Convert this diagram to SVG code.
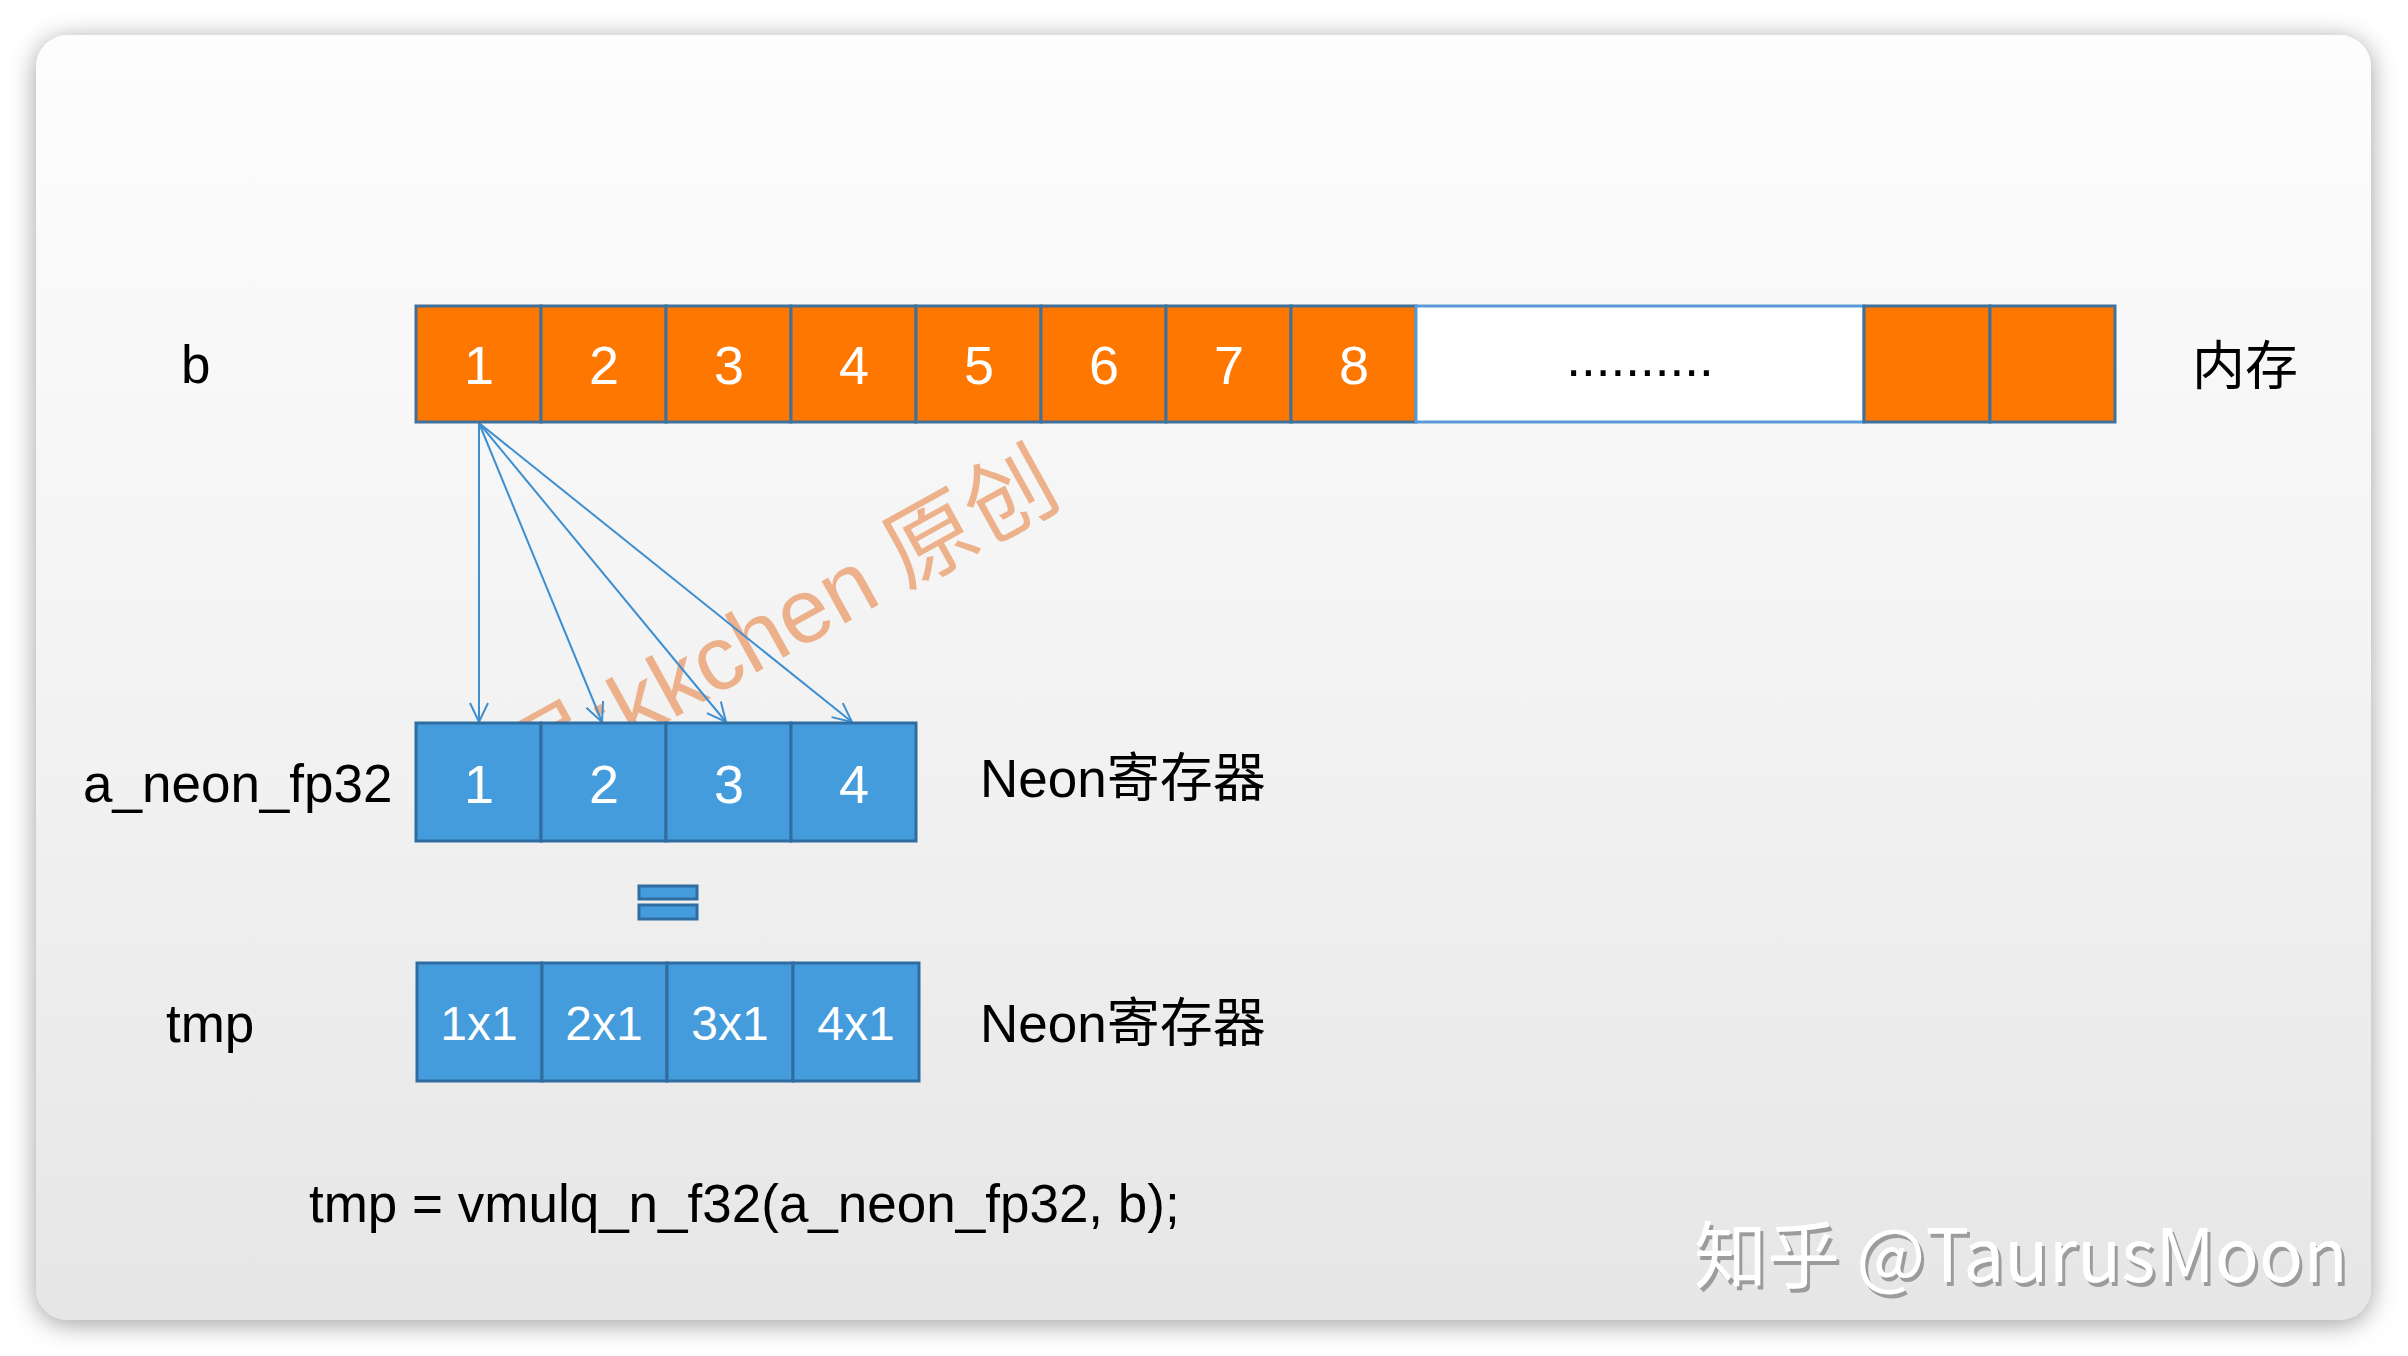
<svg xmlns="http://www.w3.org/2000/svg" width="2408" height="1356" viewBox="0 0 2408 1356">
  <defs>
    <linearGradient id="cardGrad" x1="0" y1="0" x2="0" y2="1">
      <stop offset="0" stop-color="#fdfdfd"/>
      <stop offset="0.5" stop-color="#f3f3f3"/>
      <stop offset="1" stop-color="#e6e6e6"/>
    </linearGradient>
    <filter id="cardShadow" x="-5%" y="-8%" width="110%" height="116%">
      <feDropShadow dx="0" dy="4" stdDeviation="13" flood-color="#000" flood-opacity="0.38"/>
    </filter>
    <marker id="vhead" viewBox="0 0 22 22" refX="20" refY="11" markerWidth="22" markerHeight="22" markerUnits="userSpaceOnUse" orient="auto">
      <path d="M1,2 L20,11 L1,20" fill="none" stroke="#3d8fd1" stroke-width="2"/>
    </marker>
    <style>
      .lbl { font-family: "Liberation Sans", Arial, sans-serif; font-size: 53px; fill: #000; }
      .cjk { font-family: "Liberation Sans", "Noto Sans CJK SC", sans-serif; font-size: 53px; fill: #000; }
      .num { font-family: "Liberation Sans", Arial, sans-serif; font-size: 54px; fill: #fff; text-anchor: middle; }
      .small { font-size: 48px; }
      .mem { fill: #fe7700; stroke: #41709a; stroke-width: 3; }
      .blank { fill: #fefefe; stroke: #5b9bd5; stroke-width: 3; }
      .reg { fill: #449cdc; stroke: #2f6c9f; stroke-width: 3; }
      .conn { fill: none; stroke: #3d8fd1; stroke-width: 2; marker-end: url(#vhead); }
      .wm { font-family: "Liberation Sans", "Noto Sans CJK SC", sans-serif; font-size: 91px; fill: #ea965f; opacity: 0.7; }
      .zh { font-family: "Noto Sans CJK SC", "Liberation Sans", sans-serif; font-size: 73px; }
    </style>
  </defs>

  <rect x="0" y="0" width="2408" height="1356" fill="#ffffff"/>
  <rect id="card" x="36" y="35" width="2335" height="1285" rx="32" ry="32" fill="url(#cardGrad)" filter="url(#cardShadow)"/>

  <!-- faint watermark behind diagram -->
  <text class="wm" x="530" y="798" transform="rotate(-29 530 798)">号:kkchen 原创</text>

  <g id="connectors">
    <line class="conn" x1="479" y1="423" x2="479" y2="722"/>
    <line class="conn" x1="479" y1="423" x2="602" y2="722"/>
    <line class="conn" x1="479" y1="423" x2="726" y2="722"/>
    <line class="conn" x1="479" y1="423" x2="852" y2="722"/>
  </g>

  <g id="label-b"><text class="lbl" x="181" y="383" font-size="54">b</text></g>

  <g id="memory-b">
    <rect class="mem" x="416" y="306" width="125" height="116"/>
    <rect class="mem" x="541" y="306" width="125" height="116"/>
    <rect class="mem" x="666" y="306" width="125" height="116"/>
    <rect class="mem" x="791" y="306" width="125" height="116"/>
    <rect class="mem" x="916" y="306" width="125" height="116"/>
    <rect class="mem" x="1041" y="306" width="125" height="116"/>
    <rect class="mem" x="1166" y="306" width="125" height="116"/>
    <rect class="mem" x="1291" y="306" width="125" height="116"/>
    <rect class="blank" x="1416" y="306" width="448" height="116"/>
    <rect class="mem" x="1864" y="306" width="126" height="116"/>
    <rect class="mem" x="1990" y="306" width="125" height="116"/>
    <text class="num" x="479" y="384">1</text>
    <text class="num" x="604" y="384">2</text>
    <text class="num" x="729" y="384">3</text>
    <text class="num" x="854" y="384">4</text>
    <text class="num" x="979" y="384">5</text>
    <text class="num" x="1104" y="384">6</text>
    <text class="num" x="1229" y="384">7</text>
    <text class="num" x="1354" y="384">8</text>
    <text class="lbl" x="1640" y="376" font-size="54" text-anchor="middle">..........</text>
  </g>

  <g id="label-mem"><text class="cjk" x="2192" y="385" font-size="56">内存</text></g>

  <g id="label-a"><text class="lbl" x="83" y="802">a_neon_fp32</text></g>

  <g id="reg-a">
    <rect class="reg" x="416" y="723" width="125" height="118"/>
    <rect class="reg" x="541" y="723" width="125" height="118"/>
    <rect class="reg" x="666" y="723" width="125" height="118"/>
    <rect class="reg" x="791" y="723" width="125" height="118"/>
    <text class="num" x="479" y="803">1</text>
    <text class="num" x="604" y="803">2</text>
    <text class="num" x="729" y="803">3</text>
    <text class="num" x="854" y="803">4</text>
  </g>

  <g id="label-neon-a"><text class="cjk" x="980" y="797">Neon寄存器</text></g>

  <g id="equals">
    <rect class="reg" x="639" y="886" width="58" height="13" stroke-width="2"/>
    <rect class="reg" x="639" y="905" width="58" height="14" stroke-width="2"/>
  </g>

  <g id="label-tmp"><text class="lbl" x="166" y="1042" font-size="54">tmp</text></g>

  <g id="reg-tmp">
    <rect class="reg" x="417" y="963" width="125" height="118"/>
    <rect class="reg" x="542" y="963" width="125" height="118"/>
    <rect class="reg" x="667" y="963" width="126" height="118"/>
    <rect class="reg" x="793" y="963" width="126" height="118"/>
    <text class="num small" x="479" y="1040">1x1</text>
    <text class="num small" x="604" y="1040">2x1</text>
    <text class="num small" x="730" y="1040">3x1</text>
    <text class="num small" x="856" y="1040">4x1</text>
  </g>

  <g id="label-neon-tmp"><text class="cjk" x="980" y="1042">Neon寄存器</text></g>

  <g id="code"><text class="lbl" x="309" y="1222" font-size="53.6">tmp = vmulq_n_f32(a_neon_fp32, b);</text></g>

  <g id="watermark-zhihu">
    <text class="zh" x="1697" y="1286" fill="#9c9c9c">知乎 @TaurusMoon</text>
    <text class="zh" x="1694" y="1282" fill="#ffffff">知乎 @TaurusMoon</text>
  </g>
</svg>
